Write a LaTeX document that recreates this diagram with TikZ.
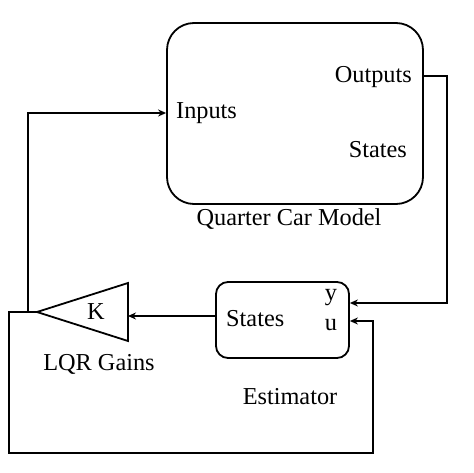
\documentclass[tikz,border=0pt]{standalone}
\usepackage{fontspec}
\setmainfont{Liberation Serif}
\usetikzlibrary{arrows.meta}
\begin{document}
\begin{tikzpicture}[x=1pt,y=-1pt,
  blk/.style={draw,line width=1.8pt,rounded corners=#1,inner sep=0pt},
  lbl/.style={inner sep=0pt,font=\fontsize{24.3}{28}\selectfont},
  wire/.style={line width=2.6pt},
  arr/.style={wire,-{Stealth[length=8pt,width=7pt]}}]
\useasboundingbox (0,0) rectangle (474,473);
% blocks
\node[blk=27pt,minimum width=256pt,minimum height=181pt] (qcm) at (295,113.5) {};
\node[blk=12pt,minimum width=133pt,minimum height=76pt] (est) at (282.5,320) {};
\draw[line width=1.8pt,line join=miter] (37,312) -- (128,283) -- (128,341) -- cycle;
\coordinate (tip) at (37,312);
\coordinate (base) at (128,316);
% labels
\node[lbl,anchor=east] (outl) at (412,77) {Outputs};
\node[lbl,anchor=east] (stq) at (407,150) {States};
\node[lbl,anchor=west] (inl) at (176,113) {Inputs};
\node[lbl] (qcml) at (289,219) {Quarter Car Model};
\node[lbl] (yl) at (331,298) {y};
\node[lbl] (ul) at (331,325) {u};
\node[lbl,anchor=west] (ste) at (226,319) {States};
\node[lbl] (kl) at (96,312) {K};
\node[lbl] (lqr) at (99,364) {LQR Gains};
\node[lbl] (estl) at (290,397) {Estimator};
% connectors
\coordinate (br) at (28,312);
\coordinate (yin) at (est.east |- 0,303);
\coordinate (uin) at (est.east |- 0,321);
\draw[arr] (qcm.east |- 0,76) -- (447,76) |- (yin);
\draw[arr] (est.west |- 0,316) -- (base);
\draw[wire] (tip) -- (br);
\draw[arr] (br) |- (qcm.west |- 0,113);
\draw[arr] (br) -- (9,312) |- (373,453) |- (uin);
\end{tikzpicture}
\end{document}
